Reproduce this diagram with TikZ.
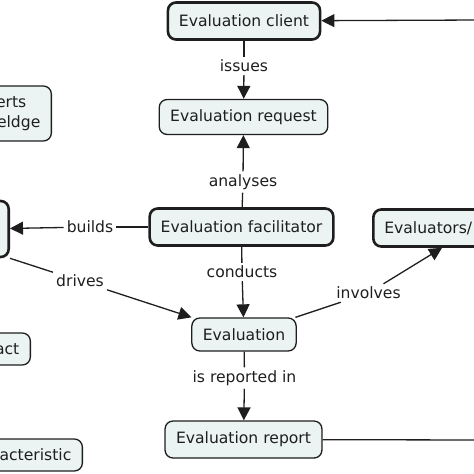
\documentclass[tikz,border=0pt]{standalone}
\usepackage{fontspec}
\setmainfont{DejaVu Sans}
\usetikzlibrary{arrows.meta}
\definecolor{cmapfill}{RGB}{235,243,243}
\definecolor{cmapline}{RGB}{30,30,30}
\begin{document}
\begin{tikzpicture}[x=1pt,y=-1pt,
    font=\fontsize{15.6}{20}\selectfont,
    concept/.style={draw=cmapline,fill=cmapfill,rounded corners=8pt,line width=1.3pt,
      inner xsep=11pt,minimum height=35pt,text=cmapline},
    keyconcept/.style={concept,line width=2.6pt,minimum height=37pt},
    linking/.style={inner sep=3pt,text=cmapline}]
      \useasboundingbox (0,0) rectangle (474,474);
      \clip (0,0) rectangle (474,474);
      \draw
        (244,21) node[keyconcept] (client){Evaluation client}
        (243.5,117) node[concept] (request){Evaluation request}
        (241.5,227) node[keyconcept] (facilitator){Evaluation facilitator}
        (372,228) node[keyconcept,anchor=west,text width=180pt,align=left] (evaluators){Evaluators/}
        (244,334.5) node[concept,minimum height=33pt] (evaluation){Evaluation}
        (243.5,439.5) node[concept,minimum height=37pt] (report){Evaluation report}
        (10,229) node[keyconcept,anchor=east,minimum width=60pt,minimum height=56pt] (built){}
        (52,113.5) node[concept,anchor=east,align=right,minimum height=55pt] (experts){erts\hspace*{14pt}\\eldge}
        (31,349) node[concept,anchor=east,minimum height=32pt] (act){act}
        (83,455) node[concept,anchor=east,minimum height=32pt] (characteristic){acteristic};
      \draw
        (244,66) node[linking] (issues){issues}
        (243,182) node[linking] (analyses){analyses}
        (90,227) node[linking] (builds){builds}
        (80,281) node[linking] (drives){drives}
        (242,272) node[linking] (conducts){conducts}
        (368.5,293) node[linking] (involves){involves}
        (244.5,378) node[linking] (reported){is reported in};
      \coordinate (clientsrc) at (480,20);
      \coordinate (reportdst) at (480,440);
      \begin{scope}[draw=cmapline,line width=1.3pt]
        \draw (client) to (issues);
        \draw (facilitator) to (analyses);
        \draw (facilitator) to (builds);
        \draw (built.south east) to (drives);
        \draw (facilitator) to (conducts);
        \draw (evaluation) to (involves);
        \draw (evaluation) to (reported);
        \draw (report) to (reportdst);
      \end{scope}
      \begin{scope}[-{Triangle[length=13pt,width=13pt]},draw=cmapline,line width=1.3pt]
        \draw (clientsrc) to (client);
        \draw (issues) to (request);
        \draw (analyses) to (request);
        \draw (builds) to (built);
        \draw (drives) to (evaluation);
        \draw (conducts) to (evaluation);
        \draw (involves) to (evaluators);
        \draw (reported) to (report);
      \end{scope}
    \end{tikzpicture}
\end{document}
